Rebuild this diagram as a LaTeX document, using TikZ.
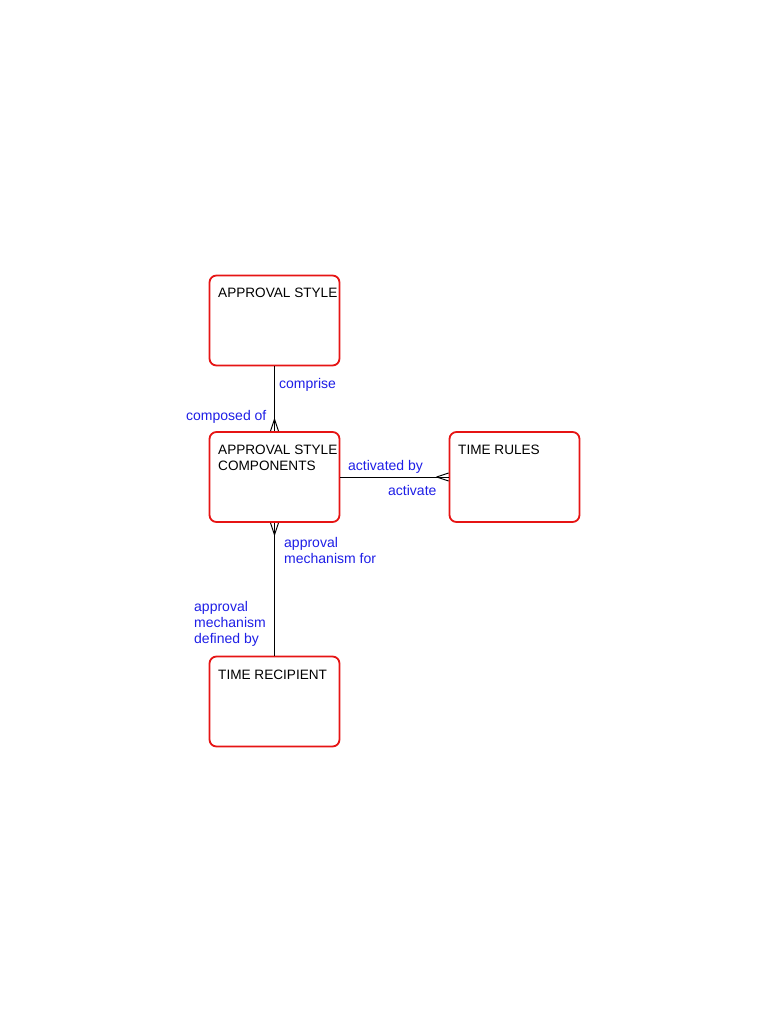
\documentclass[tikz,border=0pt]{standalone}
\usepackage{fontspec}
\setmainfont{Liberation Sans}
\definecolor{boxred}{RGB}{230,20,20}
\definecolor{lblue}{RGB}{30,30,230}
\begin{document}
\begin{tikzpicture}[x=1pt,y=-1pt,
  ent/.style={draw=boxred,line width=1.8pt,rounded corners=7pt,minimum width=130pt,minimum height=90pt,inner sep=0pt,fill=white},
  title/.style={anchor=base west,inner sep=0pt,font=\fontsize{13.6pt}{16pt}\selectfont,align=left},
  rel/.style={anchor=base west,inner sep=0pt,text=lblue,font=\fontsize{14pt}{16pt}\selectfont,align=left},
  conn/.style={draw=black,line width=0.9pt}]
\useasboundingbox (0,0) rectangle (768,1024);
% entities
\node[ent] (as) at (274.5,320.5) {};
\node[ent] (asc) at (274.5,477) {};
\node[ent] (tr) at (514.5,477) {};
\node[ent] (trc) at (274.5,701.5) {};
\node[title] (t1) at (218,297) {APPROVAL STYLE};
\node[title] (t2) at (218,470) {APPROVAL STYLE\\COMPONENTS};
\node[title] (t3) at (458,454) {TIME RULES};
\node[title] (t4) at (218,679) {TIME RECIPIENT};
% connectors
\coordinate (cf1) at ([yshift=12pt]asc.north);
\draw[conn] (as.south) -- (asc.north);
\draw[conn] (cf1) -- ([xshift=-4pt]asc.north);
\draw[conn] (cf1) -- ([xshift=4pt]asc.north);
\coordinate (cf2) at ([xshift=-12pt]tr.west);
\draw[conn] (asc.east) -- (tr.west);
\draw[conn] (cf2) -- ([yshift=-4pt]tr.west);
\draw[conn] (cf2) -- ([yshift=4pt]tr.west);
\coordinate (cf3) at ([yshift=-12pt]asc.south);
\draw[conn] (asc.south) -- (trc.north);
\draw[conn] (cf3) -- ([xshift=-4pt]asc.south);
\draw[conn] (cf3) -- ([xshift=4pt]asc.south);
% labels
\node[rel] (l1) at (279,388) {comprise};
\node[rel] (l2) at (186,420) {composed of};
\node[rel] (l3) at (348,470) {activated by};
\node[rel] (l4) at (388,495) {activate};
\node[rel] (l5) at (284,563) {approval\\mechanism for};
\node[rel] (l6) at (194,643) {approval\\mechanism\\defined by};
\end{tikzpicture}
\end{document}
